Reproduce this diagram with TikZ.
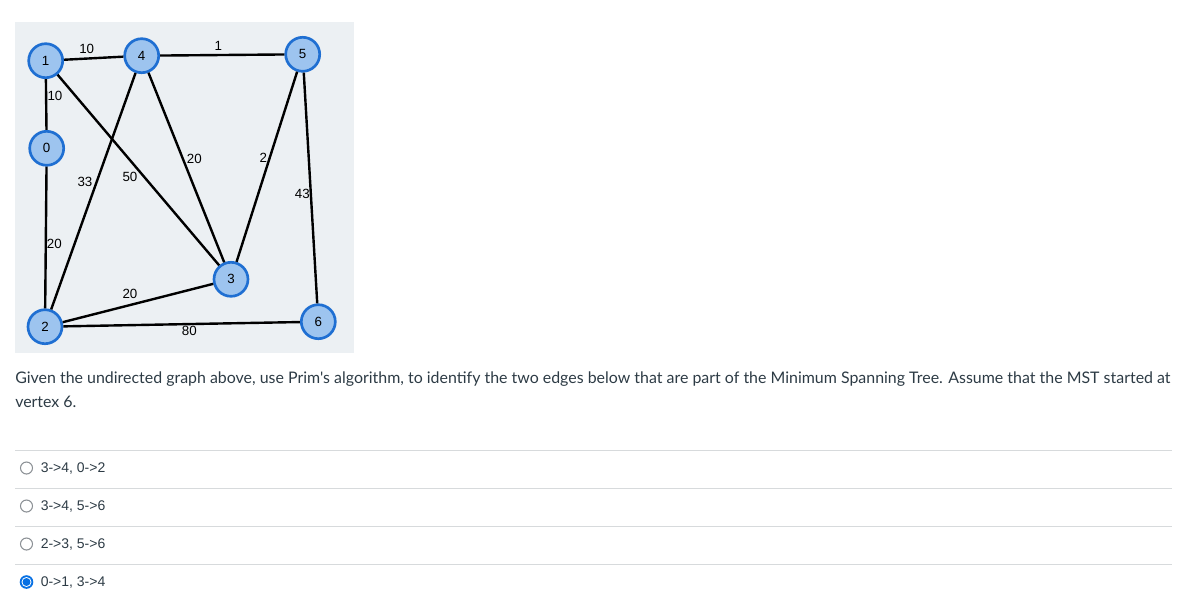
\documentclass[tikz,border=0pt]{standalone}
\usepackage{fontspec}
\setmainfont{Liberation Sans}
\newfontfamily\latofont{Lato}
\definecolor{bgc}{HTML}{ECF0F3}
\definecolor{nodefill}{HTML}{9DC4EF}
\definecolor{nodeborder}{HTML}{1F6FD2}
\definecolor{txtc}{HTML}{2D3B45}
\definecolor{sepc}{HTML}{D7DADC}
\definecolor{radiob}{HTML}{0770E3}
\definecolor{radiog}{HTML}{8A8F94}
\begin{document}
\begin{tikzpicture}[x=0.75pt,y=-0.75pt,
  vert/.style={circle,draw=nodeborder,fill=nodefill,line width=2pt,minimum size=25.5pt,inner sep=0pt,font=\fontsize{10}{10}\selectfont},
  edge/.style={line width=1.8pt,black},
  wlab/.style={inner sep=0pt,font=\fontsize{10}{10}\selectfont},
  sep/.style={sepc,line width=1pt},
  opt/.style={anchor=west,inner sep=0pt,text=txtc,font=\fontsize{10.5}{12}\selectfont},
  qtext/.style={anchor=base west,inner sep=0pt,text=txtc,font=\latofont\fontsize{11.95}{13}\selectfont}]
\useasboundingbox (0,0) rectangle (1181,612);
\fill[bgc] (15,22) rectangle (354,353);
% vertices
\node[vert] (n1) at (45.7,60.7) {1};
\node[vert] (n4) at (141.7,55.7) {4};
\node[vert] (n5) at (302.7,54.3) {5};
\node[vert] (n0) at (46.7,148.3) {0};
\node[vert] (n3) at (231,279.3) {3};
\node[vert] (n2) at (45,326.7) {2};
\node[vert] (n6) at (318.3,321.7) {6};
% edges
\draw[edge] (n1) -- (n4);
\draw[edge] (n4) -- (n5);
\draw[edge] (n1) -- (n0);
\draw[edge] (n1) -- (n3);
\draw[edge] (n4) -- (n2);
\draw[edge] (n4) -- (n3);
\draw[edge] (n5) -- (n3);
\draw[edge] (n5) -- (n6);
\draw[edge] (n0) -- (n2);
\draw[edge] (n2) -- (n3);
\draw[edge] (n2) -- (n6);
% weights
\node[wlab] (w14) at (86.7,49.3) {10};
\node[wlab] (w45) at (218.3,45.7) {1};
\node[wlab] (w10) at (55,96) {10};
\node[wlab] (w43) at (194.3,159.3) {20};
\node[wlab] (w53) at (263.3,158.3) {2};
\node[wlab] (w42) at (85,182.3) {33};
\node[wlab] (w13) at (130,176.7) {50};
\node[wlab] (w56) at (302.3,194) {43};
\node[wlab] (w02) at (54.3,244.3) {20};
\node[wlab] (w23) at (130,294) {20};
\node[wlab] (w26) at (189.3,331) {80};
% question
\node[qtext] (q1) at (15,383) {Given the undirected graph above, use Prim's algorithm, to identify the two edges below that are part of the Minimum Spanning Tree. Assume that the MST started at};
\node[qtext] (q2) at (15,407) {vertex 6.};
% separators
\draw[sep] (15,450.3) -- (1172,450.3);
\draw[sep] (15,488.3) -- (1172,488.3);
\draw[sep] (15,526.3) -- (1172,526.3);
\draw[sep] (15,564.3) -- (1172,564.3);
% radios
\draw[radiog,line width=0.8pt] (26.5,468) circle (6);
\draw[radiog,line width=0.8pt] (26.5,506) circle (6);
\draw[radiog,line width=0.8pt] (26.5,544) circle (6);
\fill[radiob] (26.5,582) circle (6.8);
\fill[white] (26.5,582) circle (5);
\fill[radiob] (26.5,582) circle (4);
\node[opt] (o1) at (40.5,468) {3->4, 0->2};
\node[opt] (o2) at (40.5,506) {3->4, 5->6};
\node[opt] (o3) at (40.5,544) {2->3, 5->6};
\node[opt] (o4) at (40.5,582) {0->1, 3->4};
\end{tikzpicture}
\end{document}
